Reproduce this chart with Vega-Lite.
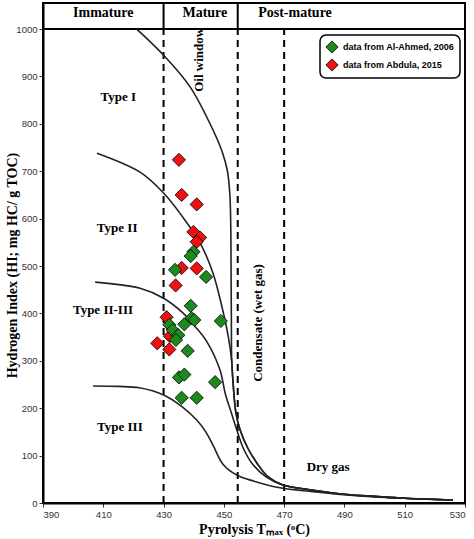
{
  "$schema": "https://vega.github.io/schema/vega-lite/v6.json",
  "width": 422,
  "height": 500,
  "autosize": {"type": "none"},
  "padding": {"left": 43, "top": 3, "right": 9, "bottom": 36},
  "background": "white",
  "config": {
    "view": {"stroke": "black", "strokeWidth": 2},
    "axis": {"grid": false, "domainColor": "black", "domainWidth": 2, "tickColor": "#333", "tickSize": 4, "labelFont": "Liberation Sans", "labelFontSize": 9.5, "labelColor": "#333", "titleFont": "Liberation Serif", "titleFontSize": 14, "titleFontWeight": "bold", "titleColor": "black"}
  },
  "datasets": {
    "points": [
      {"tmax": 435.1, "hi": 724, "source": "data from Abdula, 2015"},
      {"tmax": 436.0, "hi": 650, "source": "data from Abdula, 2015"},
      {"tmax": 441.0, "hi": 630, "source": "data from Abdula, 2015"},
      {"tmax": 439.9, "hi": 572, "source": "data from Abdula, 2015"},
      {"tmax": 442.1, "hi": 560, "source": "data from Abdula, 2015"},
      {"tmax": 441.0, "hi": 551, "source": "data from Abdula, 2015"},
      {"tmax": 436.0, "hi": 496, "source": "data from Abdula, 2015"},
      {"tmax": 441.0, "hi": 495, "source": "data from Abdula, 2015"},
      {"tmax": 434.0, "hi": 459, "source": "data from Abdula, 2015"},
      {"tmax": 431.0, "hi": 392, "source": "data from Abdula, 2015"},
      {"tmax": 432.1, "hi": 352, "source": "data from Abdula, 2015"},
      {"tmax": 427.9, "hi": 337, "source": "data from Abdula, 2015"},
      {"tmax": 431.9, "hi": 324, "source": "data from Abdula, 2015"},
      {"tmax": 439.9, "hi": 530, "source": "data from Al-Ahmed, 2006"},
      {"tmax": 439.0, "hi": 521, "source": "data from Al-Ahmed, 2006"},
      {"tmax": 433.8, "hi": 492, "source": "data from Al-Ahmed, 2006"},
      {"tmax": 444.1, "hi": 477, "source": "data from Al-Ahmed, 2006"},
      {"tmax": 439.0, "hi": 416, "source": "data from Al-Ahmed, 2006"},
      {"tmax": 439.3, "hi": 390, "source": "data from Al-Ahmed, 2006"},
      {"tmax": 440.2, "hi": 386, "source": "data from Al-Ahmed, 2006"},
      {"tmax": 436.9, "hi": 377, "source": "data from Al-Ahmed, 2006"},
      {"tmax": 449.0, "hi": 384, "source": "data from Al-Ahmed, 2006"},
      {"tmax": 431.9, "hi": 376, "source": "data from Al-Ahmed, 2006"},
      {"tmax": 433.0, "hi": 365, "source": "data from Al-Ahmed, 2006"},
      {"tmax": 434.9, "hi": 354, "source": "data from Al-Ahmed, 2006"},
      {"tmax": 434.1, "hi": 344, "source": "data from Al-Ahmed, 2006"},
      {"tmax": 438.0, "hi": 321, "source": "data from Al-Ahmed, 2006"},
      {"tmax": 435.1, "hi": 265, "source": "data from Al-Ahmed, 2006"},
      {"tmax": 436.9, "hi": 271, "source": "data from Al-Ahmed, 2006"},
      {"tmax": 447.1, "hi": 255, "source": "data from Al-Ahmed, 2006"},
      {"tmax": 436.0, "hi": 222, "source": "data from Al-Ahmed, 2006"},
      {"tmax": 441.0, "hi": 222, "source": "data from Al-Ahmed, 2006"}
    ],
    "curves": [
      {"curve": "I", "tmax": 421.1, "hi": 1000},
      {"curve": "I", "tmax": 430.0, "hi": 945},
      {"curve": "I", "tmax": 438.8, "hi": 878},
      {"curve": "I", "tmax": 446.4, "hi": 787},
      {"curve": "I", "tmax": 449.5, "hi": 740},
      {"curve": "I", "tmax": 451.2, "hi": 700},
      {"curve": "I", "tmax": 452.0, "hi": 650},
      {"curve": "I", "tmax": 452.3, "hi": 580},
      {"curve": "I", "tmax": 452.4, "hi": 480},
      {"curve": "I", "tmax": 452.5, "hi": 380},
      {"curve": "I", "tmax": 452.6, "hi": 300},
      {"curve": "I", "tmax": 453.0, "hi": 259},
      {"curve": "I", "tmax": 454.0, "hi": 190},
      {"curve": "I", "tmax": 455.4, "hi": 154},
      {"curve": "I", "tmax": 458.0, "hi": 115},
      {"curve": "I", "tmax": 461.0, "hi": 84},
      {"curve": "I", "tmax": 464.7, "hi": 55},
      {"curve": "I", "tmax": 469.6, "hi": 38},
      {"curve": "I", "tmax": 479.6, "hi": 27},
      {"curve": "I", "tmax": 490.8, "hi": 18},
      {"curve": "I", "tmax": 500.0, "hi": 14},
      {"curve": "I", "tmax": 510.0, "hi": 10},
      {"curve": "I", "tmax": 526.0, "hi": 6},
      {"curve": "II", "tmax": 407.9, "hi": 738},
      {"curve": "II", "tmax": 422.2, "hi": 698},
      {"curve": "II", "tmax": 430.0, "hi": 654},
      {"curve": "II", "tmax": 436.4, "hi": 603},
      {"curve": "II", "tmax": 442.1, "hi": 549},
      {"curve": "II", "tmax": 446.4, "hi": 485},
      {"curve": "II", "tmax": 449.4, "hi": 413},
      {"curve": "II", "tmax": 451.5, "hi": 350},
      {"curve": "II", "tmax": 452.6, "hi": 300},
      {"curve": "II", "tmax": 453.0, "hi": 259},
      {"curve": "II", "tmax": 454.0, "hi": 190},
      {"curve": "II", "tmax": 455.4, "hi": 154},
      {"curve": "II", "tmax": 458.0, "hi": 115},
      {"curve": "II", "tmax": 461.0, "hi": 84},
      {"curve": "II", "tmax": 464.7, "hi": 55},
      {"curve": "II", "tmax": 469.6, "hi": 38},
      {"curve": "II", "tmax": 479.6, "hi": 27},
      {"curve": "II", "tmax": 490.8, "hi": 18},
      {"curve": "II", "tmax": 500.0, "hi": 14},
      {"curve": "II", "tmax": 510.0, "hi": 10},
      {"curve": "II", "tmax": 526.0, "hi": 6},
      {"curve": "II-III", "tmax": 407.3, "hi": 466},
      {"curve": "II-III", "tmax": 422.2, "hi": 453},
      {"curve": "II-III", "tmax": 430.0, "hi": 432},
      {"curve": "II-III", "tmax": 436.4, "hi": 401},
      {"curve": "II-III", "tmax": 440.5, "hi": 372},
      {"curve": "II-III", "tmax": 444.4, "hi": 340},
      {"curve": "II-III", "tmax": 448.7, "hi": 281},
      {"curve": "II-III", "tmax": 450.5, "hi": 230},
      {"curve": "II-III", "tmax": 452.5, "hi": 190},
      {"curve": "II-III", "tmax": 454.3, "hi": 154},
      {"curve": "II-III", "tmax": 456.5, "hi": 115},
      {"curve": "II-III", "tmax": 459.3, "hi": 84},
      {"curve": "II-III", "tmax": 464.0, "hi": 55},
      {"curve": "II-III", "tmax": 469.6, "hi": 38},
      {"curve": "II-III", "tmax": 479.6, "hi": 27},
      {"curve": "II-III", "tmax": 490.8, "hi": 18},
      {"curve": "II-III", "tmax": 500.0, "hi": 14},
      {"curve": "II-III", "tmax": 510.0, "hi": 10},
      {"curve": "II-III", "tmax": 526.0, "hi": 6},
      {"curve": "III", "tmax": 406.6, "hi": 247},
      {"curve": "III", "tmax": 415.0, "hi": 246},
      {"curve": "III", "tmax": 422.0, "hi": 243},
      {"curve": "III", "tmax": 430.0, "hi": 228},
      {"curve": "III", "tmax": 436.0, "hi": 204},
      {"curve": "III", "tmax": 441.0, "hi": 175},
      {"curve": "III", "tmax": 444.0, "hi": 150},
      {"curve": "III", "tmax": 446.4, "hi": 122},
      {"curve": "III", "tmax": 449.7, "hi": 82},
      {"curve": "III", "tmax": 454.3, "hi": 59},
      {"curve": "III", "tmax": 460.0, "hi": 46},
      {"curve": "III", "tmax": 468.6, "hi": 32},
      {"curve": "III", "tmax": 479.6, "hi": 24},
      {"curve": "III", "tmax": 490.8, "hi": 17},
      {"curve": "III", "tmax": 500.0, "hi": 13},
      {"curve": "III", "tmax": 510.0, "hi": 10},
      {"curve": "III", "tmax": 526.0, "hi": 6}
    ],
    "labels": [
      {"label": "Type I", "tmax": 415.0, "hi": 856},
      {"label": "Type II", "tmax": 414.6, "hi": 580},
      {"label": "Type II-III", "tmax": 409.9, "hi": 407},
      {"label": "Type III", "tmax": 415.5, "hi": 160},
      {"label": "Dry gas", "tmax": 484.6, "hi": 76}
    ],
    "vlabels": [
      {"label": "Oil window", "tmax": 441.8, "hi": 935},
      {"label": "Condensate (wet gas)", "tmax": 461.3, "hi": 380}
    ],
    "header": [
      {"label": "Immature", "tmax": 410.0, "hi": 1033},
      {"label": "Mature", "tmax": 443.7, "hi": 1033},
      {"label": "Post-mature", "tmax": 473.6, "hi": 1033}
    ],
    "dashed": [{"tmax": 430}, {"tmax": 454.6}, {"tmax": 470}],
    "headerlines": [{"tmax": 430}, {"tmax": 454.6}]
  },
  "layer": [
    {
      "data": {"name": "dashed"},
      "mark": {"type": "rule", "color": "black", "strokeWidth": 2, "strokeDash": [7, 5]},
      "encoding": {
        "x": {"field": "tmax", "type": "quantitative", "scale": {"domain": [390, 530], "nice": false}, "axis": {"values": [390, 410, 430, 450, 470, 490, 510, 530], "title": "Pyrolysis Tₘₐₓ (ᵒC)"}},
        "y": {"datum": 0, "type": "quantitative", "scale": {"domain": [0, 1055], "nice": false}, "axis": {"values": [0, 100, 200, 300, 400, 500, 600, 700, 800, 900, 1000], "format": "d", "title": "Hydrogen Index (HI; mg HC/ g TOC)", "titleX": -31, "titleY": 262, "titleAngle": 270, "titleAlign": "center", "titleBaseline": "middle"}},
        "y2": {"datum": 1000}
      }
    },
    {
      "data": {"name": "headerlines"},
      "mark": {"type": "rule", "color": "black", "strokeWidth": 2},
      "encoding": {
        "x": {"field": "tmax", "type": "quantitative"},
        "y": {"datum": 1000, "type": "quantitative"},
        "y2": {"datum": 1055}
      }
    },
    {
      "data": {"values": [{}]},
      "mark": {"type": "rule", "color": "black", "strokeWidth": 2},
      "encoding": {"y": {"datum": 1000, "type": "quantitative"}}
    },
    {
      "data": {"name": "curves"},
      "mark": {"type": "line", "color": "#222", "strokeWidth": 1.6, "interpolate": "catmull-rom"},
      "encoding": {
        "x": {"field": "tmax", "type": "quantitative"},
        "y": {"field": "hi", "type": "quantitative"},
        "detail": {"field": "curve"},
        "order": {"field": "hi", "sort": "descending"}
      }
    },
    {
      "data": {"name": "points"},
      "mark": {"type": "point", "shape": "diamond", "filled": true, "size": 175, "stroke": "black", "strokeWidth": 0.8, "opacity": 1},
      "encoding": {
        "x": {"field": "tmax", "type": "quantitative"},
        "y": {"field": "hi", "type": "quantitative"},
        "color": {
          "field": "source", "type": "nominal",
          "scale": {"domain": ["data from Al-Ahmed, 2006", "data from Abdula, 2015"], "range": ["#1c8a1c", "#f01010"]},
          "legend": {
            "title": null, "orient": "none", "legendX": 277, "legendY": 32,
            "strokeColor": "black", "cornerRadius": 6, "padding": 5,
            "symbolType": "diamond", "symbolSize": 150, "symbolStrokeColor": "black", "symbolStrokeWidth": 0.8, "symbolOpacity": 1,
            "labelFont": "Liberation Sans", "labelFontWeight": "bold", "labelFontSize": 9, "labelColor": "black", "rowPadding": 2, "labelOffset": 4,
            "fillColor": "white",
            "encode": {"legend": {"update": {"stroke": {"value": "black"}, "strokeWidth": {"value": 1.5}, "cornerRadius": {"value": 6}, "fill": {"value": "white"}}}}
          }
        }
      }
    },
    {
      "data": {"name": "labels"},
      "mark": {"type": "text", "font": "Liberation Serif", "fontWeight": "bold", "fontSize": 13, "color": "black"},
      "encoding": {
        "x": {"field": "tmax", "type": "quantitative"},
        "y": {"field": "hi", "type": "quantitative"},
        "text": {"field": "label"}
      }
    },
    {
      "data": {"name": "vlabels"},
      "mark": {"type": "text", "font": "Liberation Serif", "fontWeight": "bold", "fontSize": 13, "color": "black", "angle": 270},
      "encoding": {
        "x": {"field": "tmax", "type": "quantitative"},
        "y": {"field": "hi", "type": "quantitative"},
        "text": {"field": "label"}
      }
    },
    {
      "data": {"name": "header"},
      "mark": {"type": "text", "font": "Liberation Serif", "fontWeight": "bold", "fontSize": 14, "color": "black"},
      "encoding": {
        "x": {"field": "tmax", "type": "quantitative"},
        "y": {"field": "hi", "type": "quantitative"},
        "text": {"field": "label"}
      }
    }
  ]
}
